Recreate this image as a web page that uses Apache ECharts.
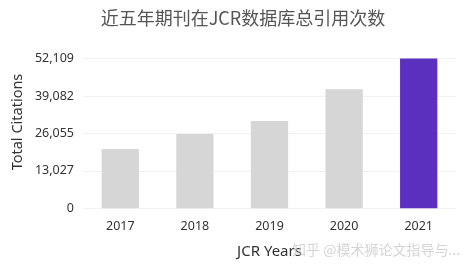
<!DOCTYPE html>
<html>
<head>
<meta charset="utf-8">
<script src="https://cdn.jsdelivr.net/npm/echarts@6/dist/echarts.min.js"></script>
<style>
html,body{margin:0;padding:0;background:#fff;}
#c{width:474px;height:269px;}
</style>
</head>
<body>
<div id="c"></div>
<script>
const categories = ['2017', '2018', '2019', '2020', '2021'];
const citations = [20600, 25810, 30330, 41450, 52109];
const yMax = 52109;
const yInterval = yMax / 4;
const barColors = ['#d6d6d6', '#d6d6d6', '#d6d6d6', '#d6d6d6', '#5c30be'];
const titleText = '近五年期刊在JCR数据库总引用次数';
const yName = 'Total Citations';
const xName = 'JCR Years';
const watermark = '知乎 @模术狮论文指导与...';

const chart = echarts.init(document.getElementById('c'), null, {renderer: 'canvas'});
const font = '"Noto Sans", "Noto Sans CJK SC", sans-serif';
chart.setOption({
  animation: false,
  backgroundColor: '#fff',
  grid: {left: 83, right: 18, top: 58.5, bottom: 60.7, containLabel: false},
  graphic: [
    {type: 'text', x: 243, y: 18, style: {text: titleText, fill: '#555', font: '18px "Noto Sans CJK SC", sans-serif', textAlign: 'center', textVerticalAlign: 'middle'}},
    {type: 'text', x: 18, y: 122, rotation: Math.PI / 2, style: {text: yName, fill: '#333', font: '14.5px ' + font, textAlign: 'center', textVerticalAlign: 'middle'}},
    {type: 'text', x: 292, y: 250, z: 100, style: {text: watermark, fill: 'rgba(195,195,195,0.7)', font: '14px "Noto Sans CJK SC", sans-serif', textAlign: 'left', textVerticalAlign: 'middle'}}
  ],
  xAxis: {
    type: 'category',
    data: categories,
    name: xName,
    nameLocation: 'middle',
    nameGap: 36,
    nameTextStyle: {color: '#333', fontSize: 15, fontFamily: font},
    axisLine: {show: false},
    axisTick: {show: false},
    axisLabel: {color: '#333', fontSize: 12.5, fontFamily: font, margin: 12}
  },
  yAxis: {
    type: 'value',
    min: 0,
    max: yMax,
    interval: yInterval,
    axisLine: {show: false},
    axisTick: {show: false},
    splitLine: {lineStyle: {color: '#f2f2f2', width: 1}},
    axisLabel: {
      color: '#333', fontSize: 12.5, fontFamily: font, margin: 9,
      formatter: v => Math.round(v).toLocaleString('en-US')
    }
  },
  series: [{
    type: 'bar',
    data: citations.map((v, i) => ({value: v, itemStyle: {color: barColors[i]}})),
    barWidth: '50%'
  }]
});
</script>
</body>
</html>
